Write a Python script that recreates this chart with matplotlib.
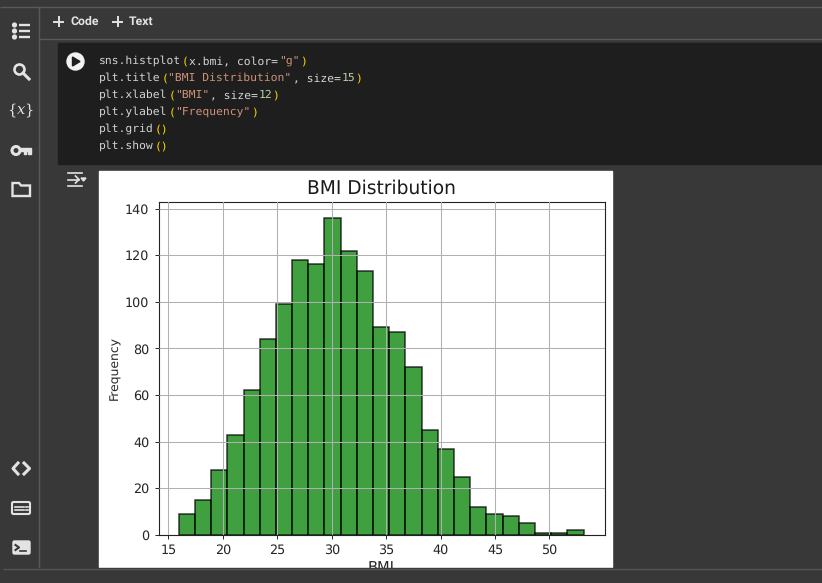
"""
colab cell screenshot with the BMI histogram
"""

import matplotlib
matplotlib.use('Agg')
import matplotlib.pyplot as plt
from matplotlib.patches import Rectangle, Circle, Polygon, FancyBboxPatch
import numpy as np

# keep the mono font on its real advance so the tokens line up
plt.rcParams['text.hinting'] = 'no_hinting'

# histogram data
bin_counts = [9, 15, 28, 43, 62, 84, 99, 118, 116, 136, 122, 113, 89, 87, 72,
              45, 37, 25, 12, 9, 8, 5, 1, 1, 2]
bmi_min = 15.96
bmi_max = 53.13
x_ticks = [15, 20, 25, 30, 35, 40, 45, 50]
y_ticks = [0, 20, 40, 60, 80, 100, 120, 140]

# code cell, each line is a list of (text, colour) tokens
TXT = '#d4d4d4'
STR = '#ce9178'
PAR = '#ffd700'
NUM = '#b5cea8'
code_lines = [
    [('sns.histplot', TXT), ('(', PAR), ('x.bmi, color=', TXT), ('"g"', STR), (')', PAR)],
    [('plt.title', TXT), ('(', PAR), ('"BMI Distribution"', STR), (', size=', TXT), ('15', NUM), (')', PAR)],
    [('plt.xlabel', TXT), ('(', PAR), ('"BMI"', STR), (', size=', TXT), ('12', NUM), (')', PAR)],
    [('plt.ylabel', TXT), ('(', PAR), ('"Frequency"', STR), (')', PAR)],
    [('plt.grid', TXT), ('()', PAR)],
    [('plt.show', TXT), ('()', PAR)],
]

W, H = 822, 583
BG = '#383838'
LINE = '#5a5a5a'
ICON = '#e3e3e3'


def px_axes(fig, zorder):
    # axes covering the whole figure, in screenshot pixels
    ax = fig.add_axes([0, 0, 1, 1], zorder=zorder)
    ax.set_xlim(0, W)
    ax.set_ylim(H, 0)
    ax.axis('off')
    ax.patch.set_alpha(0)
    return ax


def hline(ax, y, x0=0, x1=W, color=LINE, lw=1.0):
    ax.plot([x0, x1], [y, y], color=color, lw=lw, solid_capstyle='butt')


def draw_icons(ax):
    # table of contents
    for y in (25, 31, 37):
        ax.add_patch(Circle((14.5, y), 1.9, color=ICON))
        ax.plot([18.5, 29.5], [y, y], color=ICON, lw=1.7, solid_capstyle='butt')
    # search
    ax.add_patch(Circle((19.5, 69.5), 5, fc='none', ec=ICON, lw=1.9))
    ax.plot([23, 29], [73, 79], color=ICON, lw=2.2)
    # variables
    ax.text(21, 110, '{$x$}', color=ICON, fontsize=10.5, ha='center', va='center',
            family='DejaVu Serif', math_fontfamily='dejavuserif')
    # key
    ax.add_patch(Circle((16, 150.5), 4, fc='none', ec=ICON, lw=2.2))
    ax.add_patch(Rectangle((20, 148), 11, 3.4, color=ICON))
    ax.add_patch(Rectangle((24, 151), 2.2, 3, color=ICON))
    ax.add_patch(Rectangle((28, 151), 2.8, 3, color=ICON))
    # folder
    ax.add_patch(Polygon([(12.5, 183), (19, 183), (21, 185.5), (30, 185.5), (30, 196),
                          (12.5, 196)], closed=True, fc='none', ec=ICON, lw=1.7))
    # code snippets
    ax.plot([18, 13, 18], [463, 468.5, 474], color=ICON, lw=2.2)
    ax.plot([24, 29.5, 24], [463, 468.5, 474], color=ICON, lw=2.2)
    # command palette
    ax.add_patch(FancyBboxPatch((12, 502), 18, 12, boxstyle='round,pad=0,rounding_size=1.5',
                                fc='none', ec=ICON, lw=1.5))
    ax.plot([15, 24], [506.5, 506.5], color=ICON, lw=1.2)
    ax.plot([15, 24], [510, 510], color=ICON, lw=1.2)
    ax.plot([25.5, 27.5], [506.5, 506.5], color=ICON, lw=1.2)
    ax.plot([25.5, 27.5], [510, 510], color=ICON, lw=1.2)
    # terminal
    ax.add_patch(FancyBboxPatch((13, 541), 17, 13, boxstyle='round,pad=0,rounding_size=1.5',
                                fc=ICON, ec=ICON, lw=1))
    ax.plot([15.5, 19, 15.5], [545, 547.5, 550], color=BG, lw=1.5)
    ax.plot([20, 26], [551, 551], color=BG, lw=1.2)
    # run button
    ax.add_patch(Circle((75.5, 61.5), 8.5, color='#f2f2f2'))
    ax.add_patch(Polygon([(72.5, 57), (72.5, 66), (80, 61.5)], closed=True, color='#1e1e1e'))
    # output menu
    ax.plot([68, 82], [172.5, 172.5], color=ICON, lw=1.2)
    ax.plot([68, 82], [186, 186], color=ICON, lw=1.2)
    ax.plot([68, 79], [179.5, 179.5], color=ICON, lw=1.2)
    ax.plot([75.5, 79, 75.5], [176, 179.5, 183], color=ICON, lw=1.2)
    ax.add_patch(Polygon([(81, 178), (86, 178), (83.5, 181)], closed=True, color=ICON))


fig = plt.figure(figsize=(W / 100, H / 100), dpi=100, facecolor=BG)

# notebook chrome behind the chart
back = px_axes(fig, 0)
hline(back, 6.5)
hline(back, 38.5, x0=39)
back.plot([38.5, 38.5], [6.5, 568], color=LINE, lw=1.0)
back.add_patch(Rectangle((58, 43), W - 58, 121, color='#1e1e1e'))
back.add_patch(Rectangle((99, 171), 513, 397, color='white'))
for x, label in ((54, 'Code'), (113, 'Text')):
    back.plot([x, x + 9], [21.5, 21.5], color=ICON, lw=1.4)
    back.plot([x + 4.5, x + 4.5], [17, 26], color=ICON, lw=1.4)
    back.text(x + 16, 21.5, label, color=ICON, fontsize=8.8, va='center',
              family='Roboto', weight='bold')
draw_icons(back)

char_w = 6.92
for row, tokens in enumerate(code_lines):
    col = 0
    for token, color in tokens:
        back.text(99 + col * char_w, 61 + row * 17, token, color=color, fontsize=8.2,
                  va='center', family='DejaVu Sans Mono')
        col += len(token)

# the chart
ax = fig.add_axes([158.5 / W, 1 - 535 / H, 446 / W, 333 / H], zorder=1)
edges = np.linspace(bmi_min, bmi_max, len(bin_counts) + 1)
ax.bar(edges[:-1], bin_counts, width=np.diff(edges), align='edge', color='g',
       alpha=0.75, edgecolor='black', linewidth=1.1)
ax.set_xlim(14.1, 55.05)
ax.set_ylim(0, 142.8)
ax.set_xticks(x_ticks)
ax.set_yticks(y_ticks)
ax.tick_params(labelsize=9.2, colors='#262626', width=0.7, length=3.2)
ax.grid(True, color='#b0b0b0', linewidth=0.75)
ax.set_axisbelow(False)
ax.set_title('BMI Distribution', fontsize=13.4, color='#1a1a1a', pad=6)
ax.set_xlabel('BMI', fontsize=10.5, color='#262626', labelpad=2.5)
ax.set_ylabel('Frequency', fontsize=8.9, color='#262626', labelpad=3)
for s in ax.spines.values():
    s.set_linewidth(0.8)
    s.set_color('#222222')

# bottom strip cuts off the x label like the screenshot does
front = px_axes(fig, 2)
front.add_patch(Rectangle((0, 568), W, H - 568, color=BG))
hline(front, 568.5, x0=3, color='#555555')

fig.savefig('out.png', dpi=100, facecolor=BG)
